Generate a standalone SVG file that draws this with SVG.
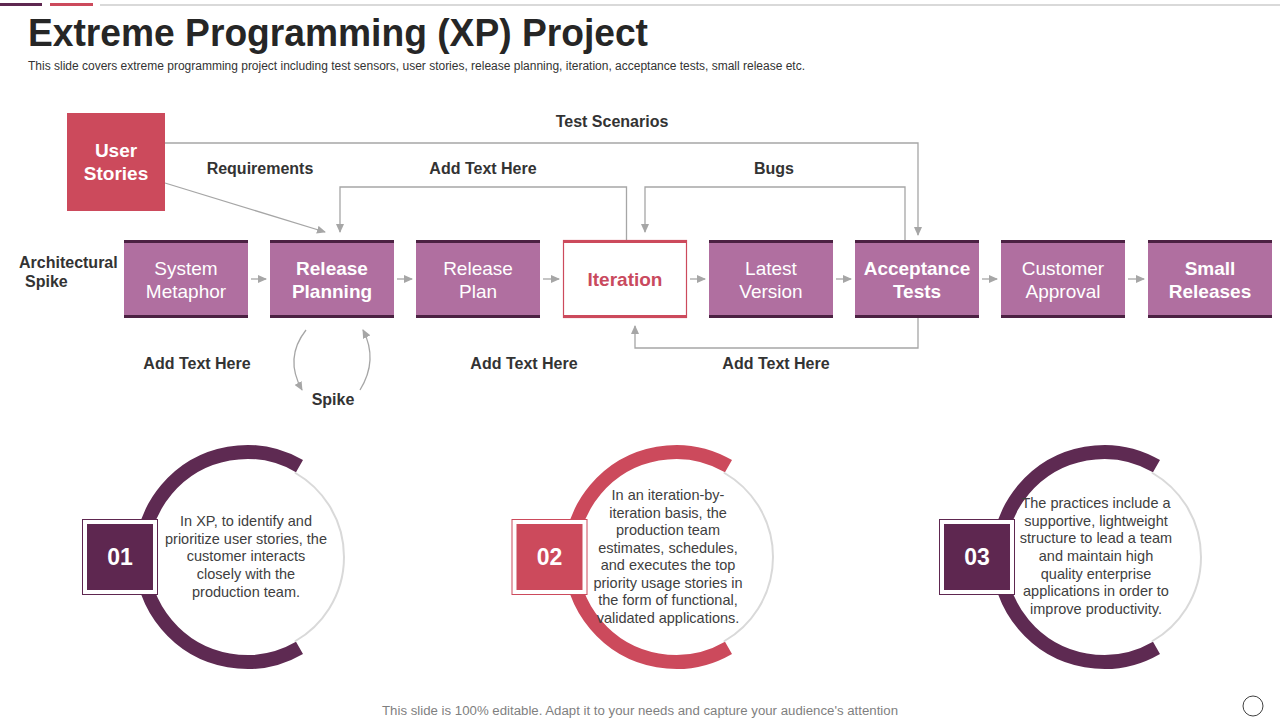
<svg xmlns="http://www.w3.org/2000/svg" width="1280" height="720" viewBox="0 0 1280 720">
<defs>
<marker id="arr" markerWidth="9" markerHeight="8" refX="8" refY="4" orient="auto" markerUnits="userSpaceOnUse">
<path d="M0,0 L9,4 L0,8 Z" fill="#A6A6A6"/>
</marker>
<style>
.lbl{font-family:"Liberation Sans",Arial,sans-serif;font-weight:bold;font-size:16px;fill:#333333;text-anchor:middle}
.box{fill:#B06FA0}
.bar{fill:#4B2142}
.bt{font-family:"Liberation Sans",Arial,sans-serif;font-size:19px;fill:#FFFFFF;text-anchor:middle}
.bb{font-weight:bold}
.con{fill:none;stroke:#A6A6A6;stroke-width:1.3}
.ct{font-family:"Liberation Sans",Arial,sans-serif;font-size:14.5px;fill:#404040;text-anchor:middle}
.num{font-family:"Liberation Sans",Arial,sans-serif;font-size:23px;font-weight:bold;fill:#FFFFFF;text-anchor:middle}
.grey{fill:none;stroke:#D9D9D9;stroke-width:2;stroke-linecap:round}
</style>
</defs>
<rect width="1280" height="720" fill="#FFFFFF"/>
<!-- top bars -->
<rect x="0" y="3" width="42" height="3" fill="#5E2750"/>
<rect x="50" y="3" width="43" height="3" fill="#CC4A5C"/>
<rect x="100" y="4" width="1180" height="2" fill="#D9D9D9"/>
<!-- title -->
<text x="28" y="46" font-family="Liberation Sans,Arial,sans-serif" font-weight="bold" font-size="38" fill="#262626" textLength="620" lengthAdjust="spacingAndGlyphs">Extreme Programming (XP) Project</text>
<text x="28" y="70" font-family="Liberation Sans,Arial,sans-serif" font-size="12" fill="#333333" textLength="777" lengthAdjust="spacingAndGlyphs">This slide covers extreme programming project including test sensors, user stories, release planning, iteration, acceptance tests, small release etc.</text>

<!-- connectors -->
<g id="connectors">
<path class="con" d="M165,143 H918 V235" marker-end="url(#arr)"/>
<path class="con" d="M165,183 L325,232" marker-end="url(#arr)"/>
<path class="con" d="M626.5,240 V187 H340 V232" marker-end="url(#arr)"/>
<path class="con" d="M905,240 V187 H645 V232" marker-end="url(#arr)"/>
<path class="con" d="M918,318 V348 H635 V326" marker-end="url(#arr)"/>
<path class="con" d="M251,279 H266" marker-end="url(#arr)"/>
<path class="con" d="M397,279 H412" marker-end="url(#arr)"/>
<path class="con" d="M543,279 H559" marker-end="url(#arr)"/>
<path class="con" d="M690,279 H705" marker-end="url(#arr)"/>
<path class="con" d="M836,279 H851" marker-end="url(#arr)"/>
<path class="con" d="M982,279 H997" marker-end="url(#arr)"/>
<path class="con" d="M1128,279 H1144" marker-end="url(#arr)"/>
<path class="con" d="M306,330 Q284,358 302,390" marker-end="url(#arr)"/>
<path class="con" d="M360,390 Q378.5,360 363,330" marker-end="url(#arr)"/>
</g>

<!-- labels -->
<g id="labels">
<text class="lbl" x="612" y="127">Test Scenarios</text>
<text class="lbl" x="260" y="174">Requirements</text>
<text class="lbl" x="483" y="174">Add Text Here</text>
<text class="lbl" x="774" y="174">Bugs</text>
<text class="lbl" x="197" y="369">Add Text Here</text>
<text class="lbl" x="524" y="369">Add Text Here</text>
<text class="lbl" x="776" y="369">Add Text Here</text>
<text class="lbl" x="333" y="405">Spike</text>
<text class="lbl" x="19" y="268" style="text-anchor:start">Architectural</text>
<text class="lbl" x="25" y="287" style="text-anchor:start">Spike</text>
</g>

<!-- User Stories -->
<g id="user-stories">
<rect x="67" y="113" width="98" height="98" fill="#CC4A5C"/>
<text class="bt bb" x="116" y="157">User</text>
<text class="bt bb" x="116" y="180">Stories</text>
</g>

<g id="system-metaphor">
<rect class="box" x="124" y="240" width="124" height="78"/>
<rect class="bar" x="124" y="240" width="124" height="3"/>
<rect class="bar" x="124" y="315" width="124" height="3"/>
<text class="bt" x="186" y="275">System</text>
<text class="bt" x="186" y="298">Metaphor</text>
</g>
<g id="release-planning">
<rect class="box" x="270" y="240" width="124" height="78"/>
<rect class="bar" x="270" y="240" width="124" height="3"/>
<rect class="bar" x="270" y="315" width="124" height="3"/>
<text class="bt bb" x="332" y="275">Release</text>
<text class="bt bb" x="332" y="298">Planning</text>
</g>
<g id="release-plan">
<rect class="box" x="416" y="240" width="124" height="78"/>
<rect class="bar" x="416" y="240" width="124" height="3"/>
<rect class="bar" x="416" y="315" width="124" height="3"/>
<text class="bt" x="478" y="275">Release</text>
<text class="bt" x="478" y="298">Plan</text>
</g>
<g id="iteration">
<rect x="563.5" y="240.5" width="123" height="77" fill="#FFFFFF" stroke="#CC4A5C" stroke-width="1.2"/>
<rect x="563" y="240" width="124" height="3" fill="#CC4A5C"/>
<rect x="563" y="315" width="124" height="3" fill="#CC4A5C"/>
<text class="bt bb" x="625" y="286" style="fill:#C94A5E">Iteration</text>
</g>
<g id="latest-version">
<rect class="box" x="709" y="240" width="124" height="78"/>
<rect class="bar" x="709" y="240" width="124" height="3"/>
<rect class="bar" x="709" y="315" width="124" height="3"/>
<text class="bt" x="771" y="275">Latest</text>
<text class="bt" x="771" y="298">Version</text>
</g>
<g id="acceptance-tests">
<rect class="box" x="855" y="240" width="124" height="78"/>
<rect class="bar" x="855" y="240" width="124" height="3"/>
<rect class="bar" x="855" y="315" width="124" height="3"/>
<text class="bt bb" x="917" y="275">Acceptance</text>
<text class="bt bb" x="917" y="298">Tests</text>
</g>
<g id="customer-approval">
<rect class="box" x="1001" y="240" width="124" height="78"/>
<rect class="bar" x="1001" y="240" width="124" height="3"/>
<rect class="bar" x="1001" y="315" width="124" height="3"/>
<text class="bt" x="1063" y="275">Customer</text>
<text class="bt" x="1063" y="298">Approval</text>
</g>
<g id="small-releases">
<rect class="box" x="1148" y="240" width="124" height="78"/>
<rect class="bar" x="1148" y="240" width="124" height="3"/>
<rect class="bar" x="1148" y="315" width="124" height="3"/>
<text class="bt bb" x="1210" y="275">Small</text>
<text class="bt bb" x="1210" y="298">Releases</text>
</g>

<!-- circle 1 -->
<g id="card-01">
<path d="M299.5,466.1 A105,105 0 1 0 299.5,647.9" fill="none" stroke="#5E2A52" stroke-width="14"/>
<path class="grey" d="M295.5,473 A97,97 0 0 1 295.5,641"/>
<rect x="82.5" y="519.5" width="75" height="75" fill="#FFFFFF" stroke="#5E2750" stroke-width="1"/>
<rect x="87" y="524" width="66" height="66" fill="#5E2750"/>
<text class="num" x="120" y="565">01</text>
<text class="ct" x="246" y="526">In XP, to identify and</text>
<text class="ct" x="246" y="544">prioritize user stories, the</text>
<text class="ct" x="246" y="561">customer interacts</text>
<text class="ct" x="246" y="579">closely with the</text>
<text class="ct" x="246" y="597">production team.</text>
</g>

<!-- circle 2 -->
<g id="card-02">
<path d="M728.5,466.1 A105,105 0 1 0 728.5,647.9" fill="none" stroke="#CC4A5C" stroke-width="14"/>
<path class="grey" d="M724.5,473 A97,97 0 0 1 724.5,641"/>
<rect x="512" y="519.5" width="75" height="75" fill="#FFFFFF" stroke="#CC4A5C" stroke-width="1"/>
<rect x="516.5" y="524" width="66" height="66" fill="#CC4A5C"/>
<text class="num" x="549.5" y="565">02</text>
<text class="ct" x="668" y="500">In an iteration-by-</text>
<text class="ct" x="668" y="518">iteration basis, the</text>
<text class="ct" x="668" y="535">production team</text>
<text class="ct" x="668" y="553">estimates, schedules,</text>
<text class="ct" x="668" y="570">and executes the top</text>
<text class="ct" x="668" y="588">priority usage stories in</text>
<text class="ct" x="668" y="605">the form of functional,</text>
<text class="ct" x="668" y="623">validated applications.</text>
</g>

<!-- circle 3 -->
<g id="card-03">
<path d="M1156.5,466.1 A105,105 0 1 0 1156.5,647.9" fill="none" stroke="#5E2A52" stroke-width="14"/>
<path class="grey" d="M1152.5,473 A97,97 0 0 1 1152.5,641"/>
<rect x="939.5" y="519.5" width="75" height="75" fill="#FFFFFF" stroke="#5E2750" stroke-width="1"/>
<rect x="944" y="524" width="66" height="66" fill="#5E2750"/>
<text class="num" x="977" y="565">03</text>
<text class="ct" x="1096" y="508">The practices include a</text>
<text class="ct" x="1096" y="526">supportive, lightweight</text>
<text class="ct" x="1096" y="543">structure to lead a team</text>
<text class="ct" x="1096" y="561">and maintain high</text>
<text class="ct" x="1096" y="579">quality enterprise</text>
<text class="ct" x="1096" y="596">applications in order to</text>
<text class="ct" x="1096" y="614">improve productivity.</text>
</g>

<!-- footer -->
<text x="382" y="715" font-family="Liberation Sans,Arial,sans-serif" font-size="12.5" fill="#7F7F7F" textLength="516" lengthAdjust="spacingAndGlyphs">This slide is 100% editable. Adapt it to your needs and capture your audience's attention</text>
<circle cx="1253" cy="706" r="10" fill="none" stroke="#404040" stroke-width="1"/>
</svg>
